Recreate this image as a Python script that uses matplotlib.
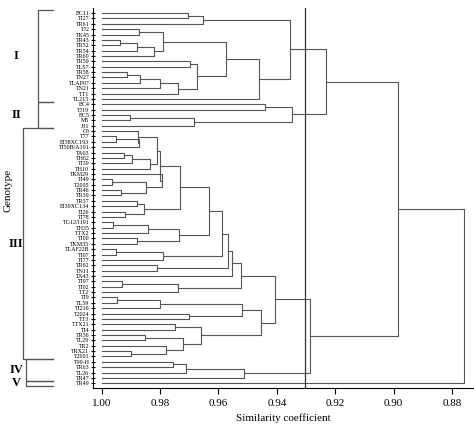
import matplotlib
matplotlib.use("Agg")
import matplotlib.pyplot as plt
import matplotlib.transforms as mtransforms

plt.rcParams['font.family'] = ['Liberation Serif', 'DejaVu Serif']

labels_I = ["BC11","TI27","TR61","TJ2","TK45","TR43","TR52","TR54","TR60","TR59",
            "TLS7","TR58","TN27","TLAP07","TN21","TT1","TL215"]
labels_II = ["BC4","TJ19","BC5","M5","J31"]
labels_III = ["C6","T77","EI38XC193","TI50B/A101","TA03","TH62","TI39","TH10","TKM29","TI49",
              "T2005","TR46","TR39","TR37","EI39XC134","TI26","TI78","TG12/I191","TH35","TTX2",
              "TI00","TKM35","TLAF22B","TI07","TI77","TR62","TN11","TA43","TI97","TI02",
              "TT2","TI9","TL59","TI216","T2024","TT3","TTX21","TI4","TR56","TL29",
              "TR2","TRX21","T2001"]
labels_IV = ["T99-H","TR63","TL26","TR47"]
labels_V = ["TR49"]
labels = labels_I + labels_II + labels_III + labels_IV + labels_V

L = None
# group I
gA = [0.9653, [0.9704, L, L], L]
gB = [0.9790, [0.9872, L, L], [0.9822, [0.9878, [0.9938, L, L], L], L]]
gC = [0.9675, [0.9698, L, L], [0.9740, [0.9800, [0.9870, [0.9913, L, L], L], L], L]]
grp_I = [0.9355, gA, [0.9460, [0.9574, gB, gC], L]]
grp_II = [0.9347, [0.9442, L, L], [0.9684, [0.9902, L, L], L]]
# group III
g3a = [0.9812, [0.9877, L, [0.9872, [0.9952, L, L], L]], [0.9836, [0.9896, [0.9925, L, L], L], L]]
g3b = [0.9793, L, [0.9848, [0.9965, L, L], [0.9935, L, L]]]
g3c = [0.9733, [0.9800, g3a, g3b], [0.9856, [0.9880, L, L], [0.9920, L, L]]]
gP = [0.9633, g3c, [0.9735, [0.9840, [0.9960, L, L], L], [0.9880, L, L]]]
gP = [0.9588, gP, [0.9790, [0.9950, L, L], L]]
gP = [0.9567, gP, [0.9810, L, L]]
gP = [0.9552, gP, L]
gP = [0.9523, gP, [0.9740, [0.9930, L, L], L]]
gQ = [0.9455, [0.9518, [0.9800, [0.9948, L, L], L], [0.9700, L, L]],
      [0.9660, [0.9750, L, L], [0.9720, [0.9850, L, L], [0.9780, L, [0.9900, L, L]]]]]
grp_III = [0.9406, gP, gQ]
grp_IV = [0.9513, [0.9710, [0.9755, L, L], L], L]
tree = [0.8760, [0.8985, [0.9233, grp_I, grp_II], [0.9287, grp_III, grp_IV]], L]

fig = plt.figure(figsize=(4.74, 4.26), dpi=100)
ax = fig.add_axes([0.196, 0.089, 0.804, 0.892])
col = "#555555"
counter = [0]

def draw(node):
    if node is None:
        y = counter[0]; counter[0] += 1
        return 1.0, y
    h, a, b = node
    xa, ya = draw(a)
    xb, yb = draw(b)
    ax.plot([xa, h, h, xb], [ya, ya, yb, yb], color=col, lw=0.8)
    return h, (ya + yb) / 2

draw(tree)
n = len(labels)
ax.set_xlim(1.003, 0.8725)
ax.set_ylim(n - 0.1, -0.93)
ax.axvline(0.9304, color="#333333", lw=0.9)
ax.set_xticks([1.00, 0.98, 0.96, 0.94, 0.92, 0.90, 0.88])
ax.set_xticklabels(["1.00", "0.98", "0.96", "0.94", "0.92", "0.90", "0.88"], fontsize=8)
ax.set_yticks(range(n))
ax.set_yticklabels(labels, fontsize=4.3)
ax.tick_params(axis='y', length=3, width=0.8, direction='inout', pad=1)
ax.tick_params(axis='x', length=4, width=0.8)
for s in ['top', 'right']:
    ax.spines[s].set_visible(False)
ax.set_xlabel("Similarity coefficient", fontsize=8, labelpad=4)

# group brackets
trans = mtransforms.blended_transform_factory(fig.transFigure, ax.transData)
def bracket(y0, y1, xv, xe, name, xl):
    ax.plot([xe, xv, xv, xe], [y0, y0, y1, y1], transform=trans, color=col, lw=0.9, clip_on=False)
    ax.text(xl, (y0 + y1) / 2, name, transform=trans, fontsize=9, fontweight='bold',
            ha='center', va='center', clip_on=False)
px = 1 / 474
counts = [len(labels_I), len(labels_II), len(labels_III), len(labels_IV), len(labels_V)]
names = ["I", "II", "III", "IV", "V"]
xvs = [38, 38, 23, 26, 26]
start = 0
for c, nm, xv in zip(counts, names, xvs):
    bracket(start - 0.5, start + c - 0.5, xv * px, 53 * px, nm, 16 * px)
    start += c
fig.text(8 * px, 1 - 190 / 426, "Genotype", rotation=90, fontsize=8, ha='center', va='center')

fig.savefig("out.png", dpi=100)
